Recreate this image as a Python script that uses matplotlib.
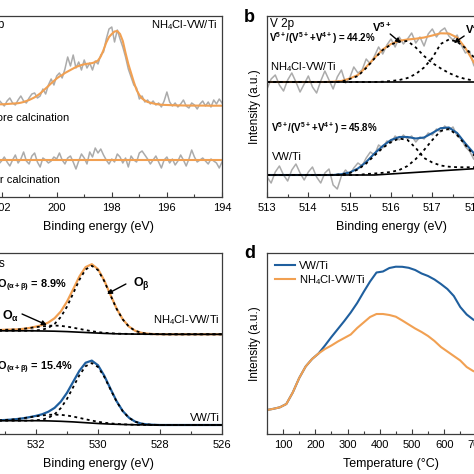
import matplotlib

matplotlib.use("Agg")
import matplotlib.pyplot as plt
import numpy as np

# ---- panel a: Cl 2p (x grid 203.0 -> 194.0 eV, 0.1 eV step) ----
CL_E = np.round(np.arange(203.0, 193.95, -0.1), 1)
CL_RAW_BEFORE = [
    94, 90, 96, 93, 89, 95, 98, 92, 95, 97,
    94, 91, 96, 99, 94, 92, 97, 101, 96, 94,
    99, 103, 104, 99, 101, 108, 103, 112, 118, 112,
    121, 124, 119, 128, 140, 131, 142, 129, 135, 127,
    137, 129, 134, 127, 136, 133, 142, 145, 158, 168,
    170, 155, 167, 158, 150, 140, 128, 120, 112, 109,
    98, 101, 95, 97, 93, 96, 92, 94, 90, 96,
    105, 95, 91, 94, 90, 93, 97, 91, 89, 94,
    92, 88, 93, 96, 91, 95, 90, 97, 93, 98,
    94,
]
CL_FIT_BEFORE = [
    92.7, 92.7, 92.7, 92.7, 92.7, 92.7, 92.7, 92.7, 92.7, 92.7,
    92.7, 92.8, 93.0, 93.2, 93.4, 93.6, 93.8, 94.3, 95.0, 96.0,
    97.0, 98.3, 99.7, 101.5, 103.5, 106.0, 108.5, 111.0, 113.7, 116.0,
    118.5, 120.5, 122.0, 124.0, 125.5, 127.0, 128.5, 130.0, 131.0, 132.0,
    132.7, 133.2, 133.5, 134.0, 135.0, 136.5, 140.5, 147.0, 154.5, 160.0,
    163.0, 165.5, 166.0, 163.0, 156.0, 144.0, 133.0, 124.0, 115.0, 107.0,
    102.0, 98.5, 96.5, 95.0, 94.3, 93.6, 93.0, 92.6, 92.3, 92.1,
    92.0, 91.9, 91.8, 91.7, 91.6, 91.6, 91.5, 91.5, 91.5, 91.4,
    91.4, 91.4, 91.4, 91.4, 91.4, 91.3, 91.3, 91.3, 91.3, 91.3,
    91.3,
]
CL_RAW_AFTER = [
    35, 40, 33, 38, 42, 34, 37, 31, 38, 33,
    36, 40, 35, 31, 37, 42, 34, 38, 45, 36,
    33, 41, 44, 35, 30, 39, 37, 34, 36, 40,
    38, 44, 37, 33, 39, 41, 35, 28, 36, 43,
    39, 33, 45, 40, 49, 44, 48, 42, 37, 33,
    38, 35, 43, 40, 34, 39, 30, 41, 37, 35,
    44, 46, 42, 38, 33, 37, 41, 35, 29, 37,
    40, 34, 38, 32, 36, 42, 37, 31, 38, 47,
    40, 35, 37, 39, 36, 33, 38, 36, 34, 29,
    35,
]
CL_FIT_AFTER_E = [203.0, 194.0]
CL_FIT_AFTER = [36.5, 36.5]

# ---- panel b: V 2p ----
V_E = np.round(np.arange(513.0, 518.25, 0.2), 1)          # fit grid
V_RAW_E = np.round(np.arange(513.0, 518.15, 0.1), 1)      # raw data grid
V_RAW_NH4 = [
    108, 118, 122, 112, 106, 117, 124, 115, 105, 113,
    121, 110, 104, 116, 126, 117, 108, 120, 127, 114,
    119, 130, 124, 127, 138, 133, 141, 150, 143, 152,
    158, 150, 160, 153, 158, 164, 154, 160, 151, 163,
    168, 160, 166, 169, 161, 157, 162, 152, 144, 146,
    132, 125,
]
V_FIT_NH4 = [115, 115, 115, 115, 115, 115, 115, 115, 115.3, 116,
             118.5, 122, 130, 139, 147.5, 153, 156.3, 157.5, 158.3, 159.5,
             161.5, 163.7, 163.5, 159.5, 149, 135, 124]
V5_NH4 = [115, 115, 115, 115, 115, 115, 115, 115, 115, 115.3,
          118, 121, 129, 138.5, 147, 152.5, 155.5, 156, 149.5, 141,
          134, 128.7, 124, 120.5, 118, 116.5, 115.8]
V4_NH4 = [115, 115, 115, 115, 115, 115, 115, 115, 115, 115,
          115, 115, 115, 115, 115.3, 116, 117, 119, 123, 129.5,
          139, 153, 157.5, 155.3, 149, 140, 128]
V_BG_NH4_E = [513.0, 519.0]
V_BG_NH4 = [115, 115]

V_RAW_VW = [
    20, 14, 25, 31, 22, 16, 27, 33, 24, 17,
    25, 30, 20, 14, 24, 28, 12, 8, 21, 27,
    22, 29, 34, 31, 39, 45, 42, 52, 49, 56,
    54, 61, 57, 62, 58, 61, 55, 60, 58, 64,
    62, 68, 65, 71, 67, 70, 61, 58, 50, 46,
    38, 36,
]
V_FIT_VW = [22, 22, 22, 22, 22, 22, 22, 22, 22, 22.8,
            24.5, 28.5, 35, 43.5, 51, 57, 60, 60, 58.5, 59.5,
            64, 68.8, 69.5, 64, 53.5, 44, 36]
V5_VW = [22, 22, 22, 22, 22, 22, 22, 22, 22.2, 22.6,
         24, 27.5, 33.5, 41.5, 49, 55, 58.5, 57, 49, 39,
         34.5, 31.5, 30.3, 29.8, 29.7, 29.8, 30]
V4_VW = [22, 22, 22, 22, 22, 22, 22, 22, 22, 22,
         22, 22, 23, 23.5, 24.2, 25, 27, 31, 38, 47,
         57, 66, 68, 62, 52, 42, 35]
V_BG_VW_E = [513.0, 515.6, 518.2]
V_BG_VW = [22, 22, 28.8]

# ---- panel c: O 1s (534.0 -> 526.0 eV, 0.2 eV step) ----
O_E = np.round(np.arange(534.0, 525.95, -0.2), 1)
O_BG_NH4 = [103.2] * 10 + [103.1, 103.0, 102.9, 102.8, 102.6, 102.4, 102.1, 101.8,
                            101.5, 101.2, 100.9, 100.6, 100.4, 100.2, 100.1, 100.0,
                            99.9, 99.9, 99.8, 99.8, 99.8] + [99.7] * 10
O_A_NH4 = [103.5, 103.6, 103.7, 103.8, 104.0, 104.2, 104.4, 104.6, 105.2, 106.0,
           106.9, 107.6, 108.2, 108.5, 108.1, 107.4, 106.3, 105.1, 103.9, 102.8,
           101.9, 101.2, 100.8, 100.4, 100.2, 100.1, 99.9, 99.9, 99.8, 99.8,
           99.8] + [99.7] * 10
O_B_NH4 = [103.2] * 9 + [103.3,
           103.6, 104.3, 106.2, 110.1, 117.0, 127.4, 140.6, 154.2, 164.5, 168.2,
           163.9, 153.0, 138.9, 125.2, 114.5, 107.3, 103.2, 101.2, 100.3, 99.9,
           99.8] + [99.7] * 10
O_FIT_NH4 = [103.5, 103.6, 103.7, 103.8, 104.0, 104.2, 104.4, 104.6, 105.2, 106.1,
             107.4, 108.9, 111.5, 115.8, 122.5, 132.4, 144.8, 157.5, 166.9, 169.8,
             164.9, 153.6, 139.3, 125.4, 114.6, 107.4, 103.2, 101.2, 100.3, 99.9,
             99.8] + [99.7] * 10

O_BG_VW = [13.3] * 11 + [13.2, 13.1, 12.9, 12.7, 12.4, 12.1, 11.7, 11.3, 10.9, 10.5,
                          10.2, 9.9, 9.7, 9.5, 9.35, 9.2, 9.15, 9.1, 9.05] + [9.0] * 11
O_A_VW = [13.3, 13.35, 13.4, 13.5, 13.7, 14.0, 14.4, 15.0, 15.8, 16.75,
          17.7, 18.55, 19.2, 19.35, 19.15, 18.5, 17.45, 16.1, 14.75, 13.4,
          12.25, 11.3, 10.6, 10.1, 9.7, 9.45, 9.25, 9.15, 9.1, 9.05] + [9.0] * 11
O_B_VW = [13.3] * 9 + [13.45,
          13.75, 14.4, 16.2, 19.7, 25.9, 35.1, 46.9, 58.8, 67.8, 70.9,
          67.0, 57.3, 44.7, 32.4, 22.7, 16.15, 12.3, 10.35, 9.55, 9.2] + [9.0] * 11
O_FIT_VW = [13.3, 13.35, 13.4, 13.5, 13.7, 14.0, 14.4, 15.0, 15.8, 16.9,
            18.15, 19.75, 22.3, 26.15, 32.35, 41.2, 52.25, 63.2, 71.25, 73.4,
            68.75, 58.4, 45.4, 32.8, 22.9, 16.25, 12.35, 10.35, 9.55, 9.2] + [9.0] * 11

# ---- panel d: NH3-TPD ----
TPD_T = np.arange(50, 711, 20)
TPD_VW = [24, 25.2, 26.7, 30, 41.5, 56, 67.5, 75, 80.5, 88.5,
          97, 105, 113, 121.5, 131, 142, 152.5, 161.5, 162.5, 166,
          167.3, 167.2, 166.2, 164, 160.5, 158, 154.5, 150, 145, 138,
          127, 119.5, 114.5, 111]
TPD_NH4 = [24, 25.2, 26.7, 30, 41.5, 56, 67.5, 75, 80.5, 85,
           88.5, 92.5, 96, 99.5, 106, 111.5, 117, 120, 120, 119,
           117.3, 113.5, 109.5, 105.5, 102, 98, 93, 87, 82.5, 78,
           73.5, 67, 63, 60.5]

ORANGE = "#F1A052"
BLUE = "#1F5F9E"
GRAY = "#ABABAB"
FRAME = "#3C3C3C"
DOTS = (0, (1.6, 1.9))

W_PX, H_PX = 474, 474
AX_W, AX_H = 248, 181

plt.rcParams.update({
    "font.family": ["Liberation Sans", "DejaVu Sans"],
    "font.size": 8,
    "mathtext.fontset": "custom",
    "mathtext.rm": "Liberation Sans",
    "mathtext.it": "Liberation Sans:italic",
    "mathtext.bf": "Liberation Sans:bold",
    "mathtext.default": "regular",
})


def _box(left, top):
    return [left / W_PX, 1 - (top + AX_H) / H_PX, AX_W / W_PX, AX_H / H_PX]


def _txt(fig, px, py, s, **kw):
    kw.setdefault("va", "center")
    fig.text(px / W_PX, 1 - py / H_PX, s, **kw)


def _style(ax, major, minor):
    for sp in ax.spines.values():
        sp.set_color(FRAME)
        sp.set_linewidth(0.9)
    ax.set_yticks([])
    ax.set_xticks(major)
    ax.set_xticks(minor, minor=True)
    ax.tick_params(axis="x", which="both", direction="in", color=FRAME,
                   labelsize=8, pad=4)
    ax.tick_params(axis="x", which="major", length=3.5, width=0.8)
    ax.tick_params(axis="x", which="minor", length=2, width=0.8)
    ax.set_ylim(0, AX_H)


def _arrow(ax, head, tail):
    ax.annotate("", xy=head, xytext=tail,
                arrowprops=dict(arrowstyle="-|>", color="k", lw=1.0,
                                mutation_scale=7, shrinkA=0, shrinkB=0))


def main():
    fig = plt.figure(figsize=(4.74, 4.74), dpi=100)

    # a
    ax = fig.add_axes(_box(-26, 16))
    ax.plot(CL_E, CL_RAW_BEFORE, color=GRAY, lw=1.1)
    ax.plot(CL_E, CL_FIT_BEFORE, color=ORANGE, lw=1.5)
    ax.plot(CL_E, CL_RAW_AFTER, color=GRAY, lw=1.1)
    ax.plot(CL_FIT_AFTER_E, CL_FIT_AFTER, color=ORANGE, lw=1.5)
    ax.set_xlim(203, 194)
    _style(ax, np.arange(194, 204, 2), np.arange(195, 204, 2))
    ax.set_xlabel("Binding energy (eV)", fontsize=9, labelpad=6)
    _txt(fig, -23, 25, "Cl 2p", fontsize=8.5)
    _txt(fig, 218, 25, "NH$_4$Cl-VW/Ti", ha="right", fontsize=8)
    _txt(fig, -20, 118, "Before calcination", fontsize=8)
    _txt(fig, -20, 180, "After calcination", fontsize=8)

    # b
    ax = fig.add_axes(_box(267, 16))
    ax.plot(V_RAW_E, V_RAW_NH4, color=GRAY, lw=1.1)
    ax.plot(V_E, V_FIT_NH4, color=ORANGE, lw=1.5)
    ax.plot(V_BG_NH4_E, V_BG_NH4, color="k", lw=1.2)
    ax.plot(V_E, V5_NH4, color="k", lw=1.3, ls=DOTS)
    ax.plot(V_E, V4_NH4, color="k", lw=1.3, ls=DOTS)
    ax.plot(V_RAW_E, V_RAW_VW, color=GRAY, lw=1.1)
    ax.plot(V_E, V_FIT_VW, color=BLUE, lw=1.5)
    ax.plot(V_BG_VW_E, V_BG_VW, color="k", lw=1.2)
    ax.plot(V_E, V5_VW, color="k", lw=1.3, ls=DOTS)
    ax.plot(V_E, V4_VW, color="k", lw=1.3, ls=DOTS)
    ax.set_xlim(513, 519)
    _style(ax, np.arange(513, 520, 1), np.arange(513.5, 519, 1))
    ax.set_xlabel("Binding energy (eV)", fontsize=9, labelpad=6)
    ax.set_ylabel("Intensity (a.u.)", fontsize=8.5, labelpad=4)
    _txt(fig, 249, 18, "b", fontsize=13, fontweight="bold", ha="center")
    _txt(fig, 270, 24, "V 2p", fontsize=8.5)
    _txt(fig, 269, 38, r"$\mathbf{V^{5+}/(V^{5+}\!+\!V^{4+})}$ = 44.2%",
         fontsize=7, fontweight="bold")
    _txt(fig, 270, 67, "NH$_4$Cl-VW/Ti", fontsize=8)
    _txt(fig, 271, 128, r"$\mathbf{V^{5+}/(V^{5+}\!+\!V^{4+})}$ = 45.8%",
         fontsize=7, fontweight="bold")
    _txt(fig, 272, 157, "VW/Ti", fontsize=8)
    _txt(fig, 382, 27, r"$\mathbf{V^{5+}}$", fontsize=8, ha="center")
    _txt(fig, 465, 29, r"$\mathbf{V^{4+}}$", fontsize=8)
    _arrow(ax, (516.24, 154), (515.98, 163))
    _arrow(ax, (517.52, 154), (517.77, 161))

    # c
    ax = fig.add_axes(_box(-26, 253))
    ax.plot(O_E, O_FIT_NH4, color=ORANGE, lw=1.6)
    ax.plot(O_E, O_BG_NH4, color="k", lw=1.2)
    ax.plot(O_E, O_A_NH4, color="k", lw=1.3, ls=DOTS)
    ax.plot(O_E, O_B_NH4, color="k", lw=1.3, ls=DOTS)
    ax.plot(O_E, O_FIT_VW, color=BLUE, lw=1.6)
    ax.plot(O_E, O_BG_VW, color="k", lw=1.2)
    ax.plot(O_E, O_A_VW, color="k", lw=1.3, ls=DOTS)
    ax.plot(O_E, O_B_VW, color="k", lw=1.3, ls=DOTS)
    ax.set_xlim(534, 526)
    _style(ax, np.arange(526, 535, 2), np.arange(527, 535, 2))
    ax.set_xlabel("Binding energy (eV)", fontsize=9, labelpad=6)
    _txt(fig, -20, 264, "O 1s", fontsize=8.5)
    _txt(fig, -19, 286, r"$\mathbf{O_\alpha/O_{(\alpha+\beta)}}$ = 8.9%",
         fontsize=7.8, fontweight="bold")
    _txt(fig, -19, 368, r"$\mathbf{O_\alpha/O_{(\alpha+\beta)}}$ = 15.4%",
         fontsize=7.8, fontweight="bold")
    _txt(fig, 220, 320, "NH$_4$Cl-VW/Ti", ha="right", fontsize=8)
    _txt(fig, 220, 418, "VW/Ti", ha="right", fontsize=8)
    _txt(fig, 2, 316, r"$\mathbf{O_\alpha}$", fontsize=9)
    _txt(fig, 133, 283, r"$\mathbf{O_\beta}$", fontsize=9)
    _arrow(ax, (531.65, 109), (532.45, 120))
    _arrow(ax, (529.71, 140), (529.1, 150))

    # d
    ax = fig.add_axes(_box(267, 253))
    ax.plot(TPD_T, TPD_VW, color=BLUE, lw=1.5, label="VW/Ti")
    ax.plot(TPD_T, TPD_NH4, color=ORANGE, lw=1.5, label="NH$_4$Cl-VW/Ti")
    ax.set_xlim(50, 820)
    _style(ax, np.arange(100, 801, 100), np.arange(50, 821, 50))
    ax.set_xlabel("Temperature (\u00b0C)", fontsize=9, labelpad=6)
    ax.set_ylabel("Intensity (a.u.)", fontsize=8.5, labelpad=4)
    ax.legend(loc="upper left", frameon=False, fontsize=8, handlelength=1.8,
              handletextpad=0.4, labelspacing=0.2, borderaxespad=0.3,
              borderpad=0.4)
    _txt(fig, 250, 254, "d", fontsize=13, fontweight="bold", ha="center")

    fig.savefig("out.png", dpi=100)


if __name__ == "__main__":
    main()
